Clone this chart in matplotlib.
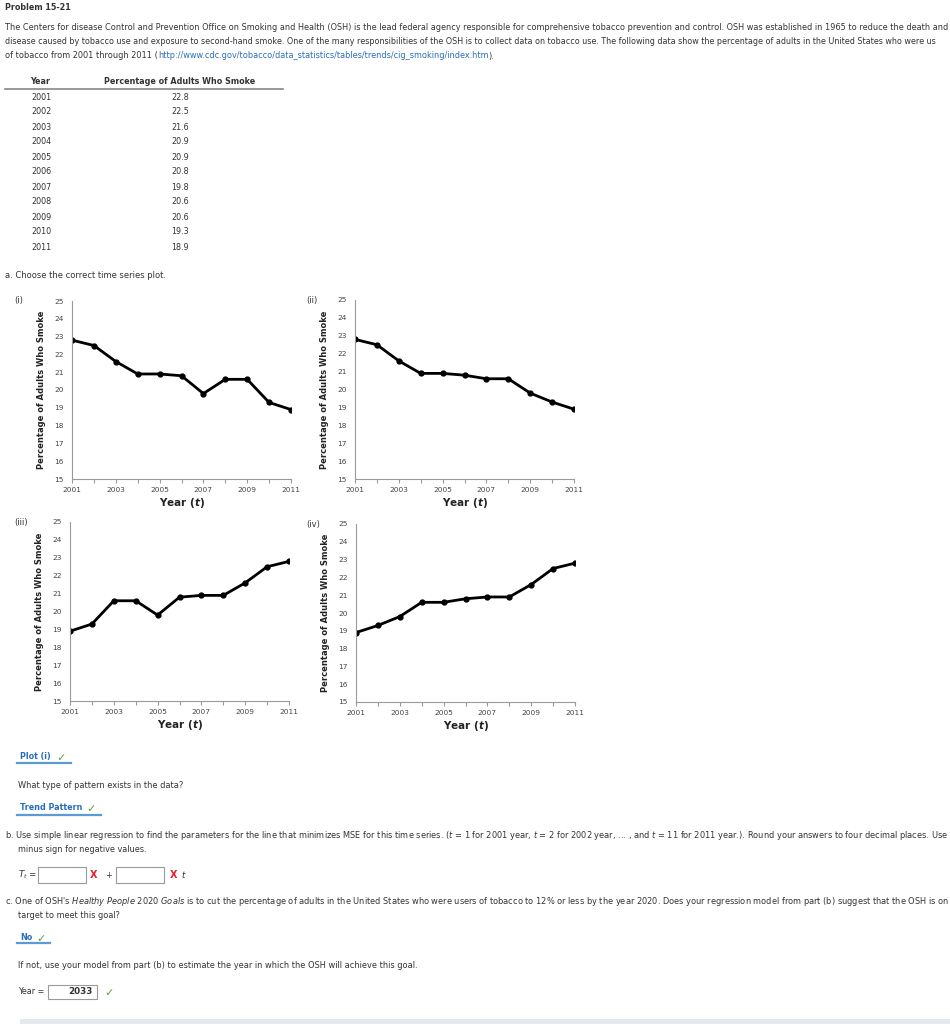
import matplotlib
matplotlib.use("Agg")
import matplotlib.pyplot as plt
from matplotlib.lines import Line2D
from matplotlib.patches import Rectangle

W, H = 950, 1024

years = [2001, 2002, 2003, 2004, 2005, 2006, 2007, 2008, 2009, 2010, 2011]
pct = [22.8, 22.5, 21.6, 20.9, 20.9, 20.8, 19.8, 20.6, 20.6, 19.3, 18.9]

# the four candidate plots
plot_i = [22.8, 22.5, 21.6, 20.9, 20.9, 20.8, 19.8, 20.6, 20.6, 19.3, 18.9]
plot_ii = [22.8, 22.5, 21.6, 20.9, 20.9, 20.8, 20.6, 20.6, 19.8, 19.3, 18.9]
plot_iii = [18.9, 19.3, 20.6, 20.6, 19.8, 20.8, 20.9, 20.9, 21.6, 22.5, 22.8]
plot_iv = [18.9, 19.3, 19.8, 20.6, 20.6, 20.8, 20.9, 20.9, 21.6, 22.5, 22.8]
plot_tags = ["(i)", "(ii)", "(iii)", "(iv)"]

TXT = "#333333"
LINK = "#2a6ebb"
GREEN = "#5aa832"
FS = 5.8

fig = plt.figure(figsize=(W / 100, H / 100), dpi=100)
fig.patch.set_facecolor("white")
rend = fig.canvas.get_renderer()


def px(x, y):
    return x / W, 1 - y / H


def t(x, y, s, **kw):
    kw.setdefault("fontsize", FS)
    kw.setdefault("color", TXT)
    kw.setdefault("va", "center")
    return fig.text(*px(x, y), s, **kw)


def fit(x0, x1, y, s, **kw):
    # squeeze a long line so it spans x0..x1 like the screenshot
    txt = t(x0, y, s, **kw)
    w = txt.get_window_extent(rend).width
    txt.set_fontsize(txt.get_fontsize() * (x1 - x0) / w)
    return txt


def run(x, y, pieces, size):
    # pieces of differently styled text placed one after another
    for s, kw in pieces:
        txt = t(x, y, s, fontsize=size, **kw)
        x += txt.get_window_extent(rend).width


def hline(x0, x1, y, color, lw):
    fig.add_artist(Line2D([x0 / W, x1 / W], [1 - y / H, 1 - y / H],
                          color=color, lw=lw, transform=fig.transFigure))


def box(x0, y0, x1, y1, ec="#9a9a9a", fc="white"):
    fig.add_artist(Rectangle(px(x0, y1), (x1 - x0) / W, (y1 - y0) / H,
                             transform=fig.transFigure, ec=ec, fc=fc, lw=0.8))


def check(x, y):
    t(x, y, "\u2713", color=GREEN, fontsize=8, fontweight="bold")


# header text
t(5, 7, "Problem 15-21", fontweight="bold")
f1 = fit(5, 943, 28, "The Centers for disease Control and Prevention Office on Smoking and Health (OSH) is the lead federal agency "
                     "responsible for comprehensive tobacco prevention and control. OSH was established in 1965 to reduce the death and")
fit(5, 932, 42, "disease caused by tobacco use and exposure to second-hand smoke. One of the many responsibilities of the OSH is "
                "to collect data on tobacco use. The following data show the percentage of adults in the United States who were us")
run(5, 56, [("of tobacco from 2001 through 2011 (", {}),
            ("http://www.cdc.gov/tobacco/data_statistics/tables/trends/cig_smoking/index.htm", {"color": LINK}),
            (").", {})], f1.get_fontsize())

# data table
t(40, 81, "Year", fontweight="bold", ha="center")
t(180, 81, "Percentage of Adults Who Smoke", fontweight="bold", ha="center")
hline(5, 283, 89, "#888888", 1.2)
for i, (yr, v) in enumerate(zip(years, pct)):
    yy = 97 + i * 15
    t(31, yy, str(yr))
    t(180, yy, f"{v:.1f}", ha="center")

fit(5, 165, 276, "a. Choose the correct time series plot.")

# axes boxes in pixels: left, right, top, bottom
boxes = [(72, 291, 301, 479), (355, 574, 300, 479), (70, 289, 522, 701), (356, 575, 524, 702)]
tag_pos = [(14, 300), (306, 300), (14, 522), (306, 525)]
series = [plot_i, plot_ii, plot_iii, plot_iv]

for (l, r, tp, b), vals, tag, tpos in zip(boxes, series, plot_tags, tag_pos):
    ax = fig.add_axes([l / W, 1 - b / H, (r - l) / W, (b - tp) / H])
    ax.plot(years, vals, color="black", lw=2, marker="o", ms=3.5)
    ax.set_xlim(2001, 2011)
    ax.set_ylim(15, 25)
    ax.set_xticks(years[::2])
    ax.set_xticks(years[1::2], minor=True)
    ax.set_yticks(range(15, 26))
    for s in ["top", "right"]:
        ax.spines[s].set_visible(False)
    for s in ["left", "bottom"]:
        ax.spines[s].set_color("#9a9a9a")
        ax.spines[s].set_linewidth(0.8)
    ax.tick_params(which="both", direction="out", length=3, width=0.8, color="#9a9a9a",
                   labelsize=5.3, labelcolor="#444444", pad=3)
    ax.tick_params(axis="y", length=0, pad=6)
    ax.set_ylabel("Percentage of Adults Who Smoke", fontsize=6.0, fontweight="bold", color="#222222")
    ax.yaxis.set_label_coords(-26 / (r - l), 0.5)
    ax.set_xlabel(r"Year ($\mathbfit{t}$)", fontsize=7.5, fontweight="bold", color="#222222")
    ax.xaxis.set_label_coords(0.5, -24 / (b - tp))
    ax.xaxis.label.set_va("center")
    t(tpos[0], tpos[1], tag, fontsize=6)

# answers
t(20, 757, "Plot (i)", color=LINK, fontweight="bold")
check(56, 758)
hline(17, 71, 763, "#5b9bd5", 1.6)

fit(18, 182, 785, "What type of pattern exists in the data?")

t(20, 808, "Trend Pattern", color=LINK, fontweight="bold")
check(86, 809)
hline(17, 101, 815, "#5b9bd5", 1.6)

fit(5, 945, 836, r"b. Use simple linear regression to find the parameters for the line that minimizes MSE for this time series. "
                 r"($t$ = 1 for 2001 year, $t$ = 2 for 2002 year, ... , and $t$ = 11 for 2011 year.). "
                 r"Round your answers to four decimal places. Use")
fit(18, 146, 850, "minus sign for negative values.")

t(18, 875, r"$T_t$ =", fontsize=6.3)
box(38, 867, 86, 883)
t(94, 875, "X", color="#e8202a", fontweight="bold", fontsize=7, ha="center")
t(108, 875, "+", ha="center")
box(116, 867, 164, 883)
t(174, 875, "X", color="#e8202a", fontweight="bold", fontsize=7, ha="center")
t(181, 875, r"$t$", fontsize=6.3)

fit(5, 945, 902, r"c. One of OSH's $\mathit{Healthy\ People\ 2020\ Goals}$ is to cut the percentage of adults in the United States "
                 r"who were users of tobacco to 12% or less by the year 2020. Does your regression model from part (b) suggest that the OSH is on")
fit(18, 119, 915, "target to meet this goal?")

t(20, 938, "No", color=LINK, fontweight="bold")
check(36, 939)
hline(17, 50, 943, "#5b9bd5", 1.6)

fit(18, 415, 966, "If not, use your model from part (b) to estimate the year in which the OSH will achieve this goal.")

t(18, 992, "Year =")
box(48, 985, 97, 999)
t(93, 992, "2033", fontweight="bold", ha="right", fontsize=6.3)
check(104, 993)

fig.add_artist(Rectangle(px(20, 1024), (W - 20) / W, 5 / H, transform=fig.transFigure,
                         ec="none", fc="#e3e9ee"))

fig.savefig("out.png", dpi=100)
